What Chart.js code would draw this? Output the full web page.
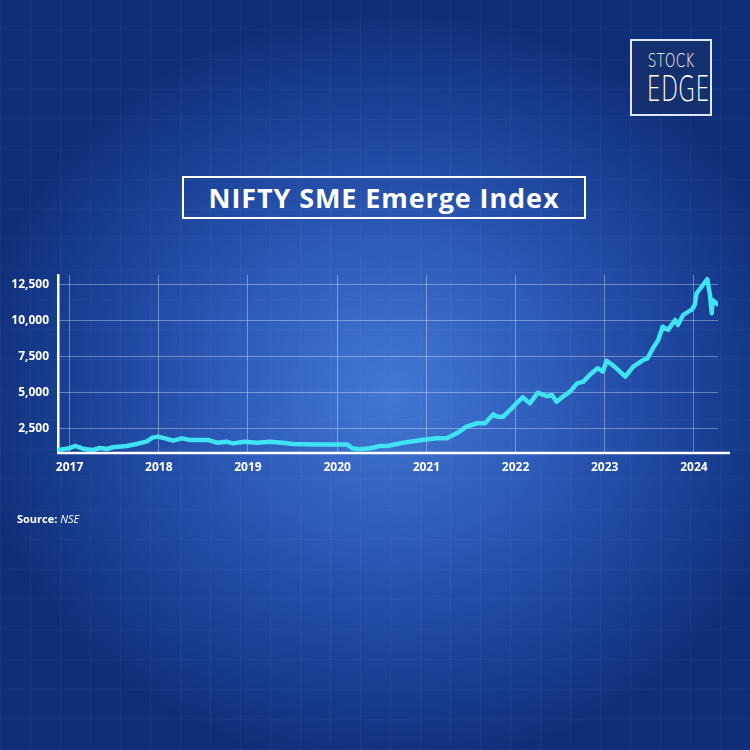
<!DOCTYPE html>
<html>
<head>
<meta charset="utf-8">
<script src="https://cdn.jsdelivr.net/npm/chart.js@4.4.1/dist/chart.umd.min.js"></script>
<style>
  html, body { margin: 0; padding: 0; }
  body {
    width: 750px; height: 750px; overflow: hidden; position: relative;
    font-family: "Open Sans", "Noto Sans", sans-serif;
    background:
      repeating-linear-gradient(0deg, rgba(255,255,255,0.035) 0 1px, transparent 1px 30px),
      repeating-linear-gradient(90deg, rgba(255,255,255,0.035) 0 1px, transparent 1px 30px),
      radial-gradient(ellipse 420px 380px at 390px 390px, #4478d4 0%, #2c5bb8 40%, #1a4096 75%, #0f2e78 100%);
    background-color: #0f2e78;
  }
  #chart { position: absolute; left: 0; top: 0; }
  .logo {
    position: absolute; left: 630px; top: 39px; width: 78px; height: 73px;
    border: 2px solid #dfe6f5; background: #14306e; color: #fff; text-align: center;
  }
  .logo .s1 { position: absolute; left: 0; right: 0; top: 9px; font-family: "DejaVu Sans"; font-weight: 200; font-size: 19px; line-height: 20px; transform: scaleX(0.72); }
  .logo .s2 { position: absolute; left: 0; right: 0; top: 28px; font-family: "DejaVu Sans"; font-weight: 200; font-size: 36px; line-height: 40px; transform: scaleX(0.62); }
  .title {
    position: absolute; left: 182px; top: 176px; width: 400px; height: 39px;
    border: 2px solid #fff; color: #fff; font-weight: 700; font-size: 27px;
    line-height: 39px; text-align: center; letter-spacing: 0.9px;
  }
  .source { position: absolute; left: 17px; top: 511px; color: #fff; font-size: 11px; font-weight: 700; }
  .source i { font-weight: 400; }
</style>
</head>
<body>
<div class="logo"><div class="s1">STOCK</div><div class="s2">EDGE</div></div>
<div class="title">NIFTY SME Emerge Index</div>
<canvas id="chart" width="750" height="750"></canvas>
<div class="source">Source: <i>NSE</i></div>
<script>
// decimal year of each reading
const dates = [
  2016.87, 2017.00, 2017.06, 2017.15, 2017.26, 2017.34, 2017.42, 2017.48, 2017.64, 2017.75,
  2017.86, 2017.93, 2017.99, 2018.07, 2018.16, 2018.26, 2018.35, 2018.46, 2018.55, 2018.65,
  2018.76, 2018.83, 2018.96, 2019.10, 2019.24, 2019.39, 2019.50, 2019.77, 2019.95, 2020.11,
  2020.17, 2020.25, 2020.37, 2020.48, 2020.56, 2020.74, 2020.95, 2021.12, 2021.23, 2021.34,
  2021.45, 2021.57, 2021.66, 2021.75, 2021.80, 2021.86, 2021.94, 2022.01, 2022.08, 2022.16,
  2022.25, 2022.35, 2022.41, 2022.46, 2022.53, 2022.61, 2022.69, 2022.76, 2022.83, 2022.92,
  2022.98, 2023.02, 2023.11, 2023.23, 2023.32, 2023.43, 2023.48, 2023.54, 2023.60, 2023.65,
  2023.71, 2023.79, 2023.82, 2023.88, 2023.98, 2024.01, 2024.03, 2024.10, 2024.15, 2024.18,
  2024.20, 2024.21, 2024.26
];
const indexValues = [
  1040, 1160, 1320, 1130, 1040, 1180, 1110, 1230, 1320, 1460,
  1620, 1900, 1970, 1850, 1690, 1850, 1740, 1740, 1740, 1550,
  1620, 1500, 1620, 1550, 1620, 1550, 1460, 1430, 1430, 1430,
  1160, 1090, 1160, 1320, 1320, 1550, 1740, 1850, 1850, 2200,
  2660, 2900, 2900, 3520, 3350, 3350, 3820, 4280, 4700, 4280,
  5020, 4790, 4860, 4400, 4740, 5090, 5670, 5790, 6250, 6720,
  6480, 7240, 6830, 6130, 6830, 7290, 7410, 8100, 8680, 9600,
  9380, 10070, 9720, 10420, 10810, 11110, 11920, 12500, 12900, 11800,
  10530, 11460, 11180
];
const yearTicks = [2017, 2018, 2019, 2020, 2021, 2022, 2023, 2024];
const valueTicks = [2500, 5000, 7500, 10000, 12500];

const tickFont = { family: "'Open Sans', sans-serif", size: 12, weight: '700' };

// x axis line runs a bit past the plot area
const axisExtend = {
  id: 'axisExtend',
  afterDraw(chart) {
    const { ctx, chartArea } = chart;
    ctx.save();
    ctx.strokeStyle = '#ffffff';
    ctx.lineWidth = 2.5;
    ctx.beginPath();
    ctx.moveTo(chartArea.left - 1, chartArea.bottom);
    ctx.lineTo(chartArea.right + 12, chartArea.bottom);
    ctx.stroke();
    ctx.restore();
  }
};

new Chart(document.getElementById('chart'), {
  type: 'line',
  data: {
    datasets: [{
      data: dates.map((d, i) => ({ x: d, y: indexValues[i] })),
      borderColor: '#3fe3f2',
      borderWidth: 4.5,
      pointRadius: 0,
      tension: 0,
      borderJoinStyle: 'round',
      borderCapStyle: 'round'
    }]
  },
  options: {
    responsive: false,
    animation: false,
    layout: { padding: { left: 0, top: 275, right: 32, bottom: 267 } },
    plugins: { legend: { display: false }, tooltip: { enabled: false } },
    scales: {
      x: {
        type: 'linear',
        min: 2016.87,
        max: 2024.27,
        afterBuildTicks: s => { s.ticks = yearTicks.map(v => ({ value: v })); },
        afterFit: s => { s.height = 30; },
        grid: { color: 'rgba(255,255,255,0.35)', lineWidth: 1, drawTicks: false },
        border: { display: false },
        ticks: { color: '#ffffff', font: tickFont, padding: 7, maxRotation: 0, callback: v => String(v) }
      },
      y: {
        min: 833,
        max: 13194,
        afterBuildTicks: s => { s.ticks = valueTicks.map(v => ({ value: v })); },
        afterFit: s => { s.width = 58; },
        grid: { color: 'rgba(255,255,255,0.35)', lineWidth: 1, drawTicks: false },
        border: { display: true, color: '#ffffff', width: 2.5 },
        ticks: { color: '#ffffff', font: tickFont, padding: 9, callback: v => v.toLocaleString('en-US') }
      }
    }
  },
  plugins: [axisExtend]
});
</script>
</body>
</html>
